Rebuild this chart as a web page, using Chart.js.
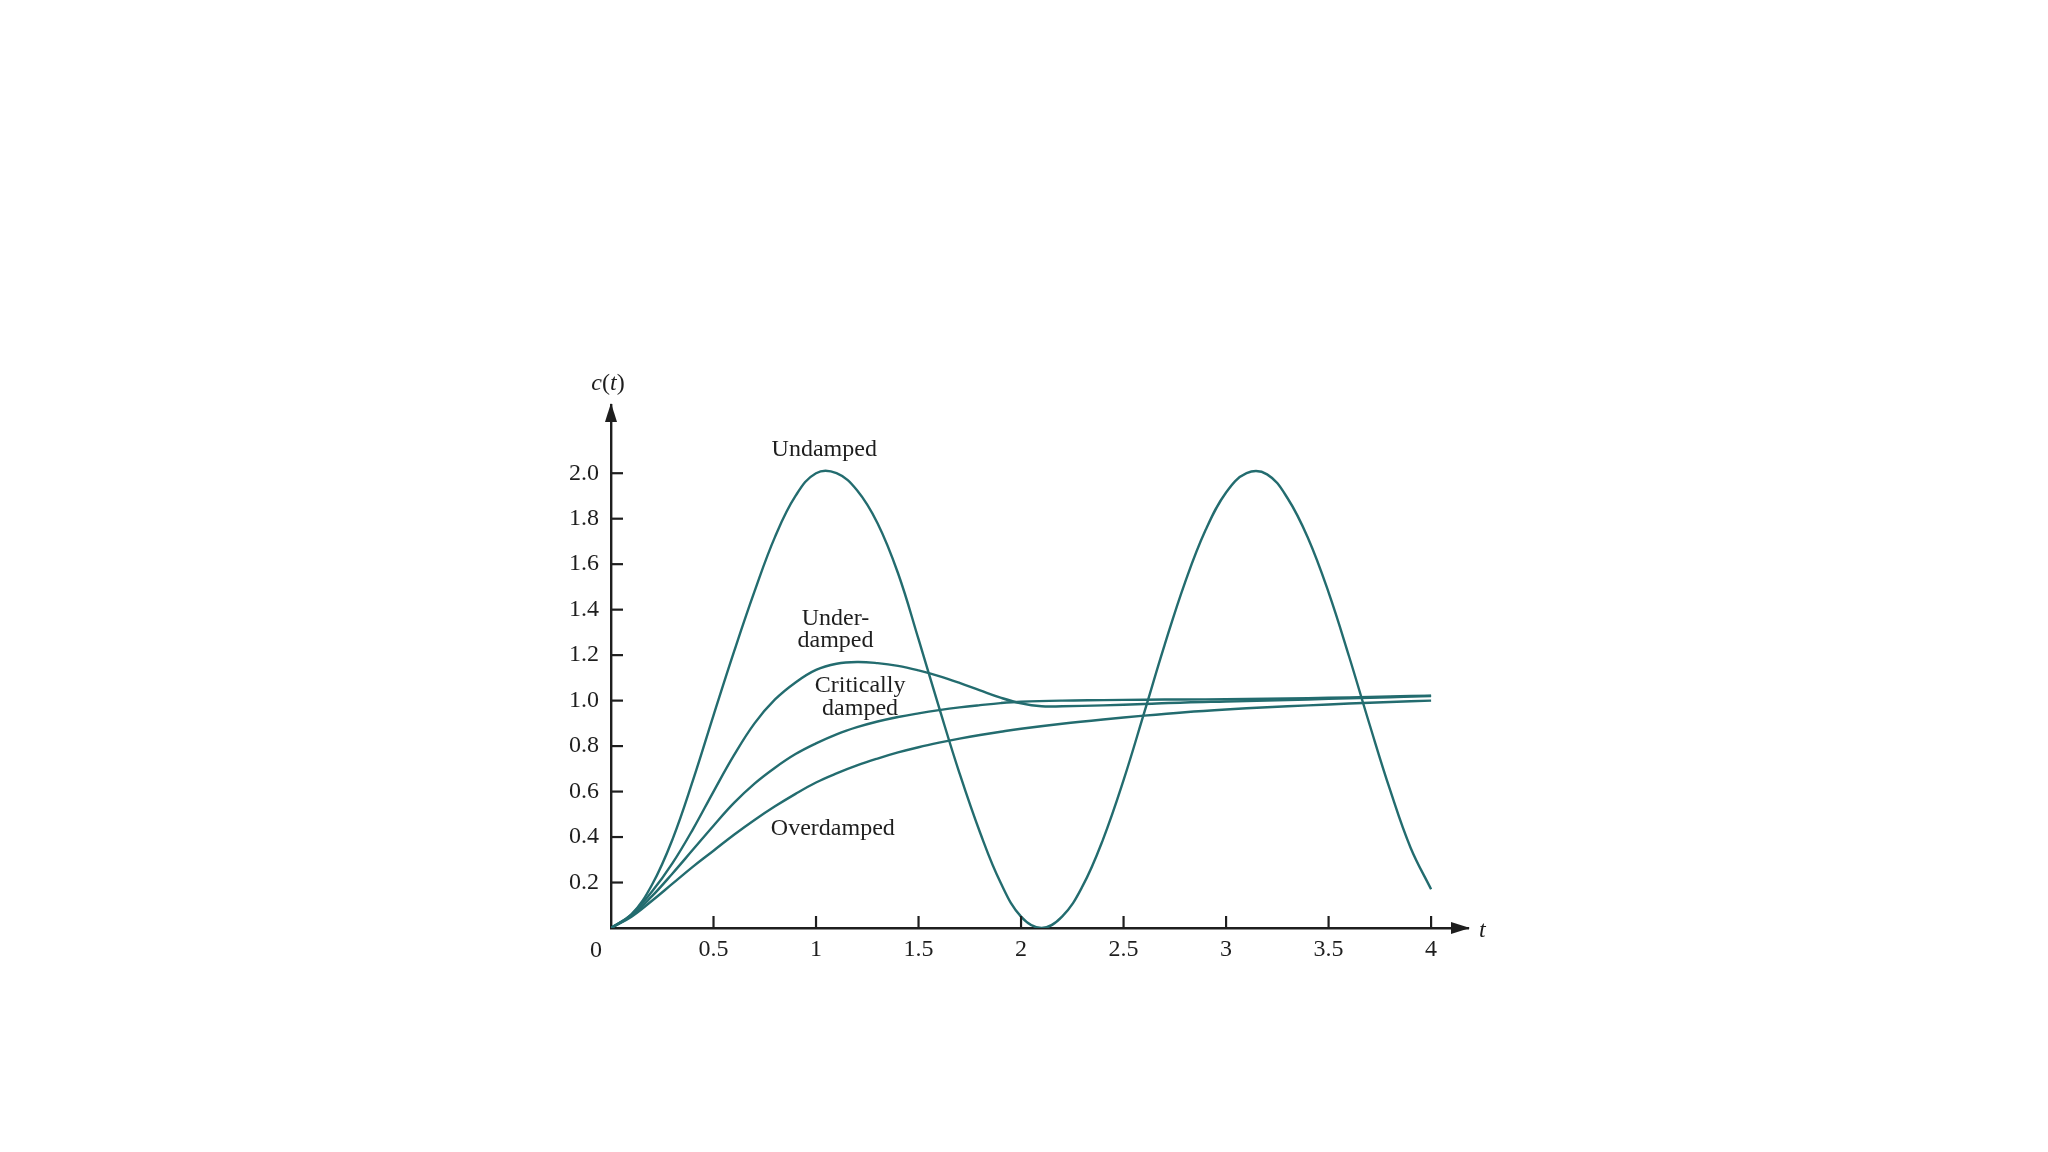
<!DOCTYPE html>
<html>
<head>
<meta charset="utf-8">
<script src="https://cdn.jsdelivr.net/npm/chart.js@4.4.1/dist/chart.umd.min.js"></script>
<style>
  html, body { margin: 0; padding: 0; background: #fff; }
  #wrap { width: 2048px; height: 1152px; }
</style>
</head>
<body>
<div id="wrap"><canvas id="chart" width="2048" height="1152"></canvas></div>
<script>
// Step responses: t (s) and c(t)
const undampedT = [0, 0.1, 0.2, 0.3, 0.4, 0.5, 0.6, 0.7, 0.8, 0.9, 1.0, 1.1, 1.2, 1.3, 1.4, 1.5, 1.6, 1.7, 1.8, 1.9, 2.0, 2.1, 2.2, 2.3, 2.4, 2.5, 2.6, 2.7, 2.8, 2.9, 3.0, 3.1, 3.2, 3.3, 3.4, 3.5, 3.6, 3.7, 3.8, 3.9, 4.0];
const undampedC = [0, 0.06, 0.19, 0.39, 0.65, 0.935, 1.215, 1.48, 1.72, 1.9, 2.0, 2.0, 1.925, 1.78, 1.56, 1.27, 0.97, 0.68, 0.42, 0.2, 0.05, 0.0, 0.05, 0.184, 0.39, 0.65, 0.945, 1.244, 1.52, 1.75, 1.915, 2.0, 1.995, 1.89, 1.714, 1.476, 1.194, 0.895, 0.607, 0.353, 0.17];

const underT = [0, 0.1, 0.2, 0.3, 0.4, 0.5, 0.6, 0.7, 0.8, 0.9, 1.0, 1.1, 1.2, 1.3, 1.4, 1.5, 1.6, 1.7, 1.8, 1.9, 2.0, 2.1, 2.2, 2.4, 2.6, 2.8, 3.0, 3.2, 3.4, 3.6, 3.8, 4.0];
const underC = [0, 0.06, 0.16, 0.285, 0.435, 0.6, 0.76, 0.9, 1.005, 1.08, 1.135, 1.162, 1.17, 1.165, 1.153, 1.133, 1.108, 1.078, 1.045, 1.013, 0.988, 0.975, 0.975, 0.979, 0.985, 0.992, 0.996, 1.0, 1.005, 1.01, 1.015, 1.02];

const criticalT = [0, 0.1, 0.2, 0.3, 0.4, 0.5, 0.6, 0.7, 0.8, 0.9, 1.0, 1.1, 1.2, 1.3, 1.4, 1.5, 1.6, 1.7, 1.8, 1.9, 2.0, 2.2, 2.4, 2.6, 2.8, 3.0, 3.2, 3.4, 3.6, 3.8, 4.0];
const criticalC = [0, 0.055, 0.14, 0.24, 0.345, 0.45, 0.55, 0.635, 0.705, 0.765, 0.812, 0.852, 0.883, 0.908, 0.928, 0.944, 0.958, 0.97, 0.98, 0.989, 0.995, 1.0, 1.002, 1.004, 1.005, 1.006, 1.008, 1.011, 1.014, 1.018, 1.022];

const overT = [0, 0.1, 0.2, 0.3, 0.4, 0.5, 0.6, 0.7, 0.8, 0.9, 1.0, 1.1, 1.2, 1.3, 1.4, 1.5, 1.6, 1.7, 1.8, 1.9, 2.0, 2.2, 2.4, 2.6, 2.8, 3.0, 3.2, 3.4, 3.6, 3.8, 4.0];
const overC = [0, 0.05, 0.12, 0.195, 0.27, 0.34, 0.41, 0.475, 0.535, 0.59, 0.64, 0.68, 0.715, 0.745, 0.772, 0.795, 0.815, 0.833, 0.849, 0.863, 0.876, 0.898, 0.917, 0.934, 0.949, 0.961, 0.971, 0.979, 0.987, 0.994, 1.0];

// axis ticks
const xTicks = [0.5, 1, 1.5, 2, 2.5, 3, 3.5, 4];
const xTickLabels = ['0.5', '1', '1.5', '2', '2.5', '3', '3.5', '4'];
const yTicks = [0.2, 0.4, 0.6, 0.8, 1.0, 1.2, 1.4, 1.6, 1.8, 2.0];
const yTickLabels = ['0.2', '0.4', '0.6', '0.8', '1.0', '1.2', '1.4', '1.6', '1.8', '2.0'];

const curveNames = ['Undamped', 'Underdamped', 'Critically damped', 'Overdamped'];

const LINE = '#236c6f';
const INK = '#1e1e1e';
const SERIF = '"Liberation Serif", "Times New Roman", serif';

function pts(ts, cs) {
    return ts.map((t, i) => ({ x: t, y: cs[i] }));
}

function curve(label, ts, cs) {
    return {
        label: label,
        data: pts(ts, cs),
        borderColor: LINE,
        borderWidth: 2.4,
        pointRadius: 0,
        fill: false,
        tension: 0.4
    };
}

// text on the plot, placed in data units
const notes = [
    { text: 'Undamped', t: 1.04, c: 2.105 },
    { text: 'Under-', t: 1.095, c: 1.362 },
    { text: 'damped', t: 1.095, c: 1.265 },
    { text: 'Critically', t: 1.215, c: 1.066 },
    { text: 'damped', t: 1.215, c: 0.966 },
    { text: 'Overdamped', t: 1.082, c: 0.436 }
];

// draws inward tick marks, arrow heads and the text labels
const axisExtras = {
    id: 'axisExtras',
    afterDraw(chart) {
        const { ctx, scales: { x, y } } = chart;
        const x0 = x.getPixelForValue(0);
        const y0 = y.getPixelForValue(0);
        ctx.save();
        ctx.strokeStyle = INK;
        ctx.fillStyle = INK;
        ctx.lineWidth = 2.2;

        xTicks.forEach(v => {
            const px = x.getPixelForValue(v);
            ctx.beginPath(); ctx.moveTo(px, y0); ctx.lineTo(px, y0 - 12); ctx.stroke();
        });
        yTicks.forEach(v => {
            const py = y.getPixelForValue(v);
            ctx.beginPath(); ctx.moveTo(x0, py); ctx.lineTo(x0 + 12, py); ctx.stroke();
        });

        // arrow heads
        const xEnd = x.getPixelForValue(x.max);
        const yEnd = y.getPixelForValue(y.max);
        ctx.beginPath();
        ctx.moveTo(xEnd + 2, y0); ctx.lineTo(xEnd - 17, y0 - 6); ctx.lineTo(xEnd - 17, y0 + 6);
        ctx.closePath(); ctx.fill();
        ctx.beginPath();
        ctx.moveTo(x0, yEnd - 2); ctx.lineTo(x0 - 6, yEnd + 17); ctx.lineTo(x0 + 6, yEnd + 17);
        ctx.closePath(); ctx.fill();

        // origin label
        ctx.font = '24px ' + SERIF;
        ctx.textAlign = 'center';
        ctx.textBaseline = 'middle';
        ctx.fillText('0', x0 - 15, y0 + 23);

        // axis names
        ctx.font = 'italic 24px ' + SERIF;
        ctx.textAlign = 'left';
        ctx.fillText('t', xEnd + 11, y0 + 3);

        const parts = [['c', true], ['(', false], ['t', true], [')', false]];
        const fontOf = it => (it ? 'italic ' : '') + '24px ' + SERIF;
        let w = 0;
        parts.forEach(p => { ctx.font = fontOf(p[1]); w += ctx.measureText(p[0]).width; });
        let cx = x0 - 3 - w / 2;
        parts.forEach(p => {
            ctx.font = fontOf(p[1]);
            ctx.fillText(p[0], cx, yEnd - 21);
            cx += ctx.measureText(p[0]).width;
        });

        // curve names
        ctx.font = '24px ' + SERIF;
        ctx.textAlign = 'center';
        notes.forEach(n => {
            ctx.fillText(n.text, x.getPixelForValue(n.t), y.getPixelForValue(n.c));
        });
        ctx.restore();
    }
};

new Chart(document.getElementById('chart'), {
    type: 'line',
    data: {
        datasets: [
            curve(curveNames[0], undampedT, undampedC),
            curve(curveNames[1], underT, underC),
            curve(curveNames[2], criticalT, criticalC),
            curve(curveNames[3], overT, overC)
        ]
    },
    options: {
        responsive: false,
        animation: false,
        events: [],
        layout: { padding: { left: 551, right: 580, top: 405, bottom: 164 } },
        plugins: {
            legend: { display: false },
            tooltip: { enabled: false },
            title: { display: false }
        },
        scales: {
            x: {
                type: 'linear',
                min: 0,
                max: 4.18,
                afterBuildTicks: s => { s.ticks = xTicks.map(v => ({ value: v })); },
                afterFit: s => { s.height = 60; },
                grid: { display: false, drawTicks: false },
                border: { display: true, color: INK, width: 2.4 },
                ticks: {
                    autoSkip: false,
                    maxRotation: 0,
                    padding: 7,
                    color: INK,
                    font: { family: SERIF, size: 24 },
                    callback: v => xTickLabels[xTicks.indexOf(v)]
                }
            },
            y: {
                type: 'linear',
                min: 0,
                max: 2.3,
                afterBuildTicks: s => { s.ticks = yTicks.map(v => ({ value: v })); },
                afterFit: s => { s.width = 60; },
                grid: { display: false, drawTicks: false },
                border: { display: true, color: INK, width: 2.4 },
                ticks: {
                    autoSkip: false,
                    padding: 12,
                    color: INK,
                    font: { family: SERIF, size: 24 },
                    callback: v => yTickLabels[yTicks.indexOf(v)]
                }
            }
        }
    },
    plugins: [axisExtras]
});
</script>
</body>
</html>
